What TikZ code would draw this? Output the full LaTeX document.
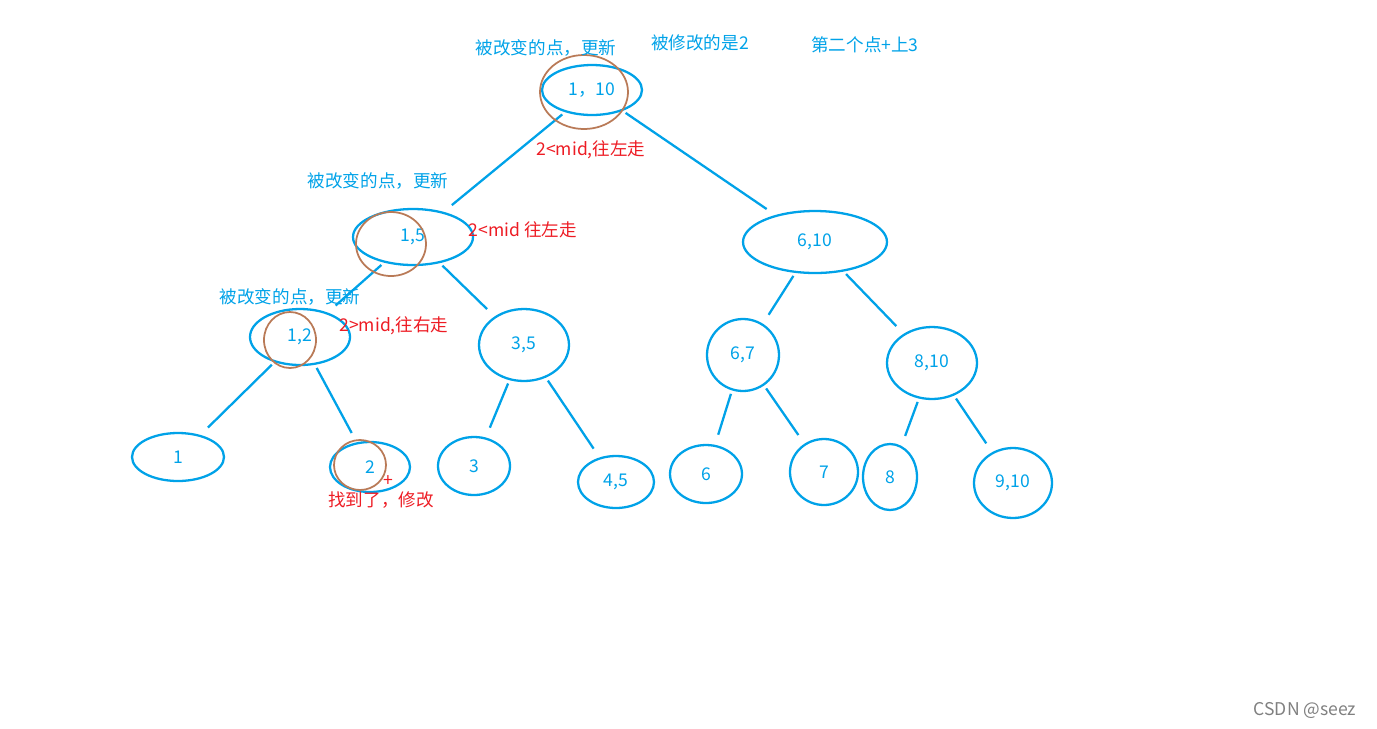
\documentclass[tikz,border=0pt]{standalone}
\usepackage{fontspec}
\setmainfont{Noto Sans CJK SC}
\usetikzlibrary{shapes.geometric}
\definecolor{pblue}{RGB}{0,162,232}
\definecolor{pred}{RGB}{237,28,36}
\definecolor{pbrown}{RGB}{185,122,87}
\tikzset{
  seg/.style={ellipse, draw=pblue, line width=1.3pt, text=pblue, inner sep=0pt, font=\fontsize{10}{12}\selectfont},
  edge/.style={draw=pblue, line width=1.3pt},
  note/.style={text=pblue, font=\fontsize{10}{12}\selectfont},
  warn/.style={text=pred, font=\fontsize{10}{12}\selectfont},
  scribble/.style={draw=pbrown, line width=1pt}
}
\begin{document}
\begin{tikzpicture}[x=0.02cm,y=-0.02cm]
\useasboundingbox (0,0) rectangle (1377,728);
% tree
\node[seg, minimum width=2cm, minimum height=1cm] (r) at (592,90) {1，10};
\node[seg, minimum width=2.4cm, minimum height=1.12cm] (a) at (413,237) {1,5};
\node[seg, minimum width=2.88cm, minimum height=1.24cm] (b) at (815,242) {6,10};
\node[seg, minimum width=2cm, minimum height=1.12cm] (aa) at (300,337) {1,2};
\node[seg, minimum width=1.8cm, minimum height=1.44cm] (ab) at (524,345) {3,5};
\node[seg, minimum width=1.44cm, minimum height=1.44cm] (ba) at (743,355) {6,7};
\node[seg, minimum width=1.8cm, minimum height=1.44cm] (bb) at (932,363) {8,10};
\node[seg, minimum width=1.84cm, minimum height=0.96cm] (l1) at (178,457) {1};
\node[seg, minimum width=1.6cm, minimum height=1cm] (l2) at (370,467) {2};
\node[seg, minimum width=1.44cm, minimum height=1.16cm] (l3) at (474,466) {3};
\node[seg, minimum width=1.52cm, minimum height=1.04cm] (l45) at (616,482) {4,5};
\node[seg, minimum width=1.44cm, minimum height=1.16cm] (l6) at (706,474) {6};
\node[seg, minimum width=1.36cm, minimum height=1.32cm] (l7) at (824,472) {7};
\node[seg, minimum width=1.08cm, minimum height=1.32cm] (l8) at (890,477) {8};
\node[seg, minimum width=1.56cm, minimum height=1.4cm] (l910) at (1013,483) {9,10};
\foreach \p/\c in {r/a,r/b,a/aa,a/ab,b/ba,b/bb,aa/l1,aa/l2,ab/l3,ab/l45,ba/l6,ba/l7,bb/l8,bb/l910}
  \draw[edge, shorten <=2pt, shorten >=6pt] (\p) -- (\c);
% brown marks
\draw[scribble] (584,92) ellipse (44 and 37);
\draw[scribble] (391,244) ellipse (35 and 32);
\draw[scribble] (290,340) ellipse (26 and 28);
\draw[scribble] (360,465) ellipse (26 and 25);
% notes
\node[note] (n1) at (546,48) {被改变的点，更新};
\node[note] (n2) at (700,43) {被修改的是2};
\node[note] (n3) at (865,45) {第二个点+上3};
\node[note] (n4) at (378,181) {被改变的点，更新};
\node[note] (n5) at (290,297) {被改变的点，更新};
\node[warn] (w1) at (591,150) {2<mid,往左走};
\node[warn] (w2) at (523,230) {2<mid 往左走};
\node[warn] (w3) at (394,326) {2>mid,往右走};
\node[warn] (w4) at (381,500) {找到了，修改};
\node[warn] (w5) at (388,481) {+};
\node[text=gray, font=\fontsize{10}{12}\selectfont] (cs) at (1305,710) {CSDN @seez};
\end{tikzpicture}
\end{document}
